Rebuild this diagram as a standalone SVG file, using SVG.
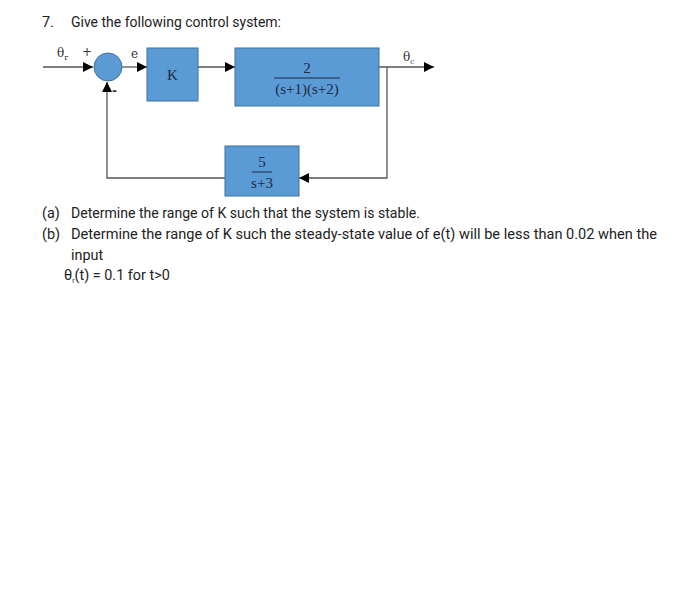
<svg xmlns="http://www.w3.org/2000/svg" width="700" height="595" viewBox="0 0 700 595">
<style>
.t{font-family:Roboto,"Liberation Sans",sans-serif;font-size:14.4px;fill:#222}
.blk{fill:#5b9bd5;stroke:#41719c;stroke-width:1}
.bt{font-family:"Liberation Serif","DejaVu Serif",serif;font-size:15px;fill:#1f2a44;text-anchor:middle}
.ln{stroke:#555;stroke-width:1.3;fill:none}
.lbl{font-family:"DejaVu Serif",serif;font-size:12px;fill:#333}
</style>
<defs>
<marker id="ah" viewBox="0 0 10 10" refX="10" refY="5" markerWidth="10" markerHeight="10" markerUnits="userSpaceOnUse" orient="auto">
<path d="M0,0 L10,5 L0,10 z" fill="#000"/>
</marker>
</defs>
<rect width="700" height="595" fill="#fff"/>
<text class="t" x="42" y="27">7.</text>
<text class="t" x="71" y="27" textLength="210" lengthAdjust="spacingAndGlyphs">Give the following control system:</text>

<g id="connectors">
<line class="ln" x1="43" y1="67" x2="93" y2="67" marker-end="url(#ah)"/>
<line class="ln" x1="122" y1="67" x2="147" y2="67" marker-end="url(#ah)"/>
<line class="ln" x1="198" y1="67" x2="235" y2="67" marker-end="url(#ah)"/>
<line class="ln" x1="379" y1="67" x2="434" y2="67" marker-end="url(#ah)"/>
<polyline class="ln" points="387,67 387,178 299,178" marker-end="url(#ah)"/>
<polyline class="ln" points="225,178 107,178 107,82" marker-end="url(#ah)"/>
</g>

<g id="sum">
<circle cx="108" cy="67" r="14" class="blk"/>
<text class="lbl" x="57" y="57">θ<tspan font-size="8" dy="3">r</tspan></text>
<text class="lbl" x="82" y="56" font-family="Liberation Sans,sans-serif">+</text>
<text class="lbl" x="112" y="95" font-family="Liberation Sans,sans-serif" font-weight="bold">-</text>
<text class="lbl" x="131" y="58" font-size="14">e</text>
</g>

<g id="K">
<rect class="blk" x="147" y="48" width="51" height="53"/>
<text class="bt" x="172.5" y="80">K</text>
</g>

<g id="G">
<rect class="blk" x="235" y="48" width="144" height="58"/>
<text class="bt" x="307" y="73">2</text>
<line x1="274" y1="78" x2="340" y2="78" stroke="#1f2a44" stroke-width="1"/>
<text class="bt" x="307" y="94">(s+1)(s+2)</text>
</g>

<g id="H">
<rect class="blk" x="225" y="146" width="74" height="50"/>
<text class="bt" x="262" y="167">5</text>
<line x1="252" y1="172" x2="272" y2="172" stroke="#1f2a44" stroke-width="1"/>
<text class="bt" x="262" y="188">s+3</text>
</g>

<g id="out">
<text class="lbl" x="403" y="61">θ<tspan font-size="7" dy="3">c</tspan></text>
</g>

<text class="t" x="42" y="218">(a)</text>
<text class="t" x="71" y="218" textLength="349" lengthAdjust="spacingAndGlyphs">Determine the range of K such that the system is stable.</text>
<text class="t" x="42" y="239">(b)</text>
<text class="t" x="71" y="239" textLength="586" lengthAdjust="spacingAndGlyphs">Determine the range of K such the steady-state value of e(t) will be less than 0.02 when the</text>
<text class="t" x="71" y="260">input</text>
<text class="t" x="64" y="280" font-size="13.5" font-family="'DejaVu Sans',sans-serif">θ<tspan font-size="7" dy="3">r</tspan><tspan dy="-3">(t) = 0.1 for t&gt;0</tspan></text>
</svg>
